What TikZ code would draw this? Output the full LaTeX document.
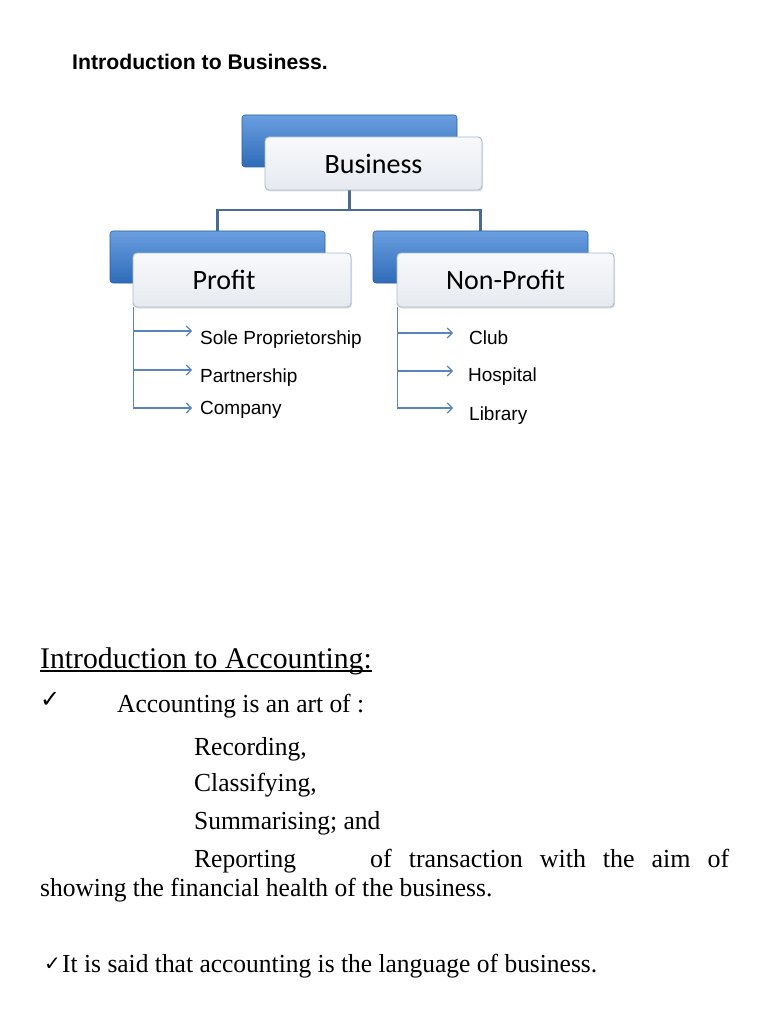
\documentclass[tikz,border=0pt]{standalone}
\usepackage{fontspec}
\setmainfont{Liberation Serif}
\newfontfamily\arialf{Liberation Sans}
\newfontfamily\calf{Carlito}
\newfontfamily\dejaf{DejaVu Sans}
\usetikzlibrary{arrows.meta,shadows}
\definecolor{boxblueT}{HTML}{6A9FE0}
\definecolor{boxblueB}{HTML}{2F6BB8}
\definecolor{boxblueD}{HTML}{2A5E9F}
\definecolor{whiteT}{HTML}{F8F9FB}
\definecolor{whiteB}{HTML}{E6EAF0}
\definecolor{whiteD}{HTML}{A9B9CE}
\definecolor{treeC}{HTML}{4A6A96}
\definecolor{listC}{HTML}{5A84C0}
\begin{document}
\begin{tikzpicture}[x=1pt,y=-1pt,
  backbox/.style={draw=boxblueD, line width=0.6pt, rounded corners=3pt, top color=boxblueT, bottom color=boxblueB, minimum width=215pt, minimum height=52pt, inner sep=0pt},
  frontbox/.style={draw=whiteD, line width=0.9pt, rounded corners=4pt, top color=whiteT, bottom color=whiteB, minimum width=217pt, minimum height=53pt, inner sep=0pt, font=\calf\fontsize{28}{30}\selectfont, drop shadow={shadow xshift=1pt, shadow yshift=-1.5pt, opacity=0.25}},
  boxtext/.style={inner sep=0pt, font=\calf\fontsize{28}{30}\selectfont},
  tree/.style={draw=treeC, line width=2.4pt},
  larr/.style={draw=listC, line width=1.1pt, -{Straight Barb[length=5pt,width=10pt,line width=1.1pt]}},
  item/.style={anchor=base west, inner sep=0pt, font=\arialf\fontsize{19}{22}\selectfont},
  body/.style={anchor=base west, inner sep=0pt, font=\fontsize{26}{30}\selectfont},
  chk/.style={anchor=base west, inner sep=0pt, font=\dejaf\fontsize{24}{26}\selectfont}
]
\useasboundingbox (0,0) rectangle (768,1024);
\fill[white] (0,0) rectangle (768,1024);

% title
\node[anchor=base west, inner sep=0pt, font=\arialf\bfseries\fontsize{21.2}{24}\selectfont] (t1) at (72,70) {Introduction to Business.};

% tree
\node[backbox] (bB) at (349.5,141) {};
\node[backbox] (pB) at (217.5,257) {};
\node[backbox] (nB) at (480.5,257) {};
\draw[tree] (bB.south) -- ++(0,43) coordinate (j);
\draw[tree] (pB.north) |- (j) -| (nB.north);
\node[frontbox] (B) at (373.5,163.5) {Business};
\node[frontbox, minimum width=218pt, minimum height=54pt] (P) at (242,280) {};
\node[boxtext] (Pt) at (224,280) {Profit};
\node[frontbox, minimum width=217pt, minimum height=54pt] (N) at (505.5,280) {Non-Profit};

% profit list
\coordinate (pl) at ([xshift=1pt]P.south west);
\coordinate (pa1) at (192,331);
\coordinate (pa2) at (192,370);
\coordinate (pa3) at (192,408);
\draw[larr] (pl) |- (pa3);
\draw[larr] (pl |- pa1) -- (pa1);
\draw[larr] (pl |- pa2) -- (pa2);
\node[item] (s1) at (200,344) {Sole Proprietorship};
\node[item] (s2) at (200,382) {Partnership};
\node[item] (s3) at (200,414) {Company};

% non-profit list
\coordinate (nl) at ([xshift=1pt]N.south west);
\coordinate (na1) at (453,333);
\coordinate (na2) at (453,371);
\coordinate (na3) at (453,408);
\draw[larr] (nl) |- (na3);
\draw[larr] (nl |- na1) -- (na1);
\draw[larr] (nl |- na2) -- (na2);
\node[item] (n1) at (469,344) {Club};
\node[item] (n2) at (468,381) {Hospital};
\node[item] (n3) at (469,420) {Library};

% accounting text
\node[anchor=base west, inner sep=0pt, font=\fontsize{30}{34}\selectfont] (h2) at (40,668) {\scalebox{0.99}[1]{Introduction to Accounting:}};
\draw[line width=1.6pt] ([yshift=-3pt]h2.base west) -- ([yshift=-3pt]h2.base east);
\node[chk] (c1) at (40,707) {✓};
\node[body] (l1) at (117,712) {\scalebox{0.98}[1]{Accounting is an art of :}};
\node[body] (l2) at (194,755) {\scalebox{0.98}[1]{Recording,}};
\node[body] (l3) at (194,791) {\scalebox{0.98}[1]{Classifying,}};
\node[body] (l4) at (194,829) {\scalebox{0.98}[1]{Summarising; and}};
\node[body] (l5) at (194,867) {\scalebox{0.98}[1]{Reporting}};
\node[body] (l6) at (370,867) {\makebox[359pt][s]{of transaction with the aim of}};
\node[body] (l7) at (40,896) {\scalebox{0.98}[1]{showing the financial health of the business.}};
\node[chk, font=\dejaf\fontsize{20}{22}\selectfont] (c2) at (44,970) {✓};
\node[body] (l8) at (62,972) {\scalebox{0.98}[1]{It is said that accounting is the language of business.}};
\end{tikzpicture}
\end{document}
